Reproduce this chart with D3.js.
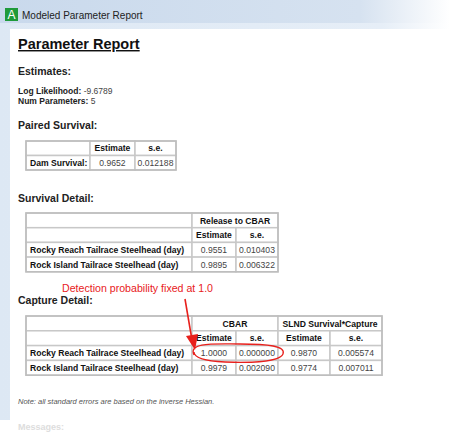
<!DOCTYPE html>
<html><head><meta charset="utf-8">
<script src="https://cdn.jsdelivr.net/npm/d3@7"></script>
<style>body{margin:0;background:#fff}svg{display:block}text{font-family:"Liberation Sans",Arial,sans-serif}</style>
</head><body>
<script>
// report values
const logLikelihood = '-9.6789'
const numParameters = '5'
const pairedHeader = ['', 'Estimate', 's.e.']
const pairedRows = [['Dam Survival:', '0.9652', '0.012188']]
const survivalGroups = ['Release to CBAR']
const survivalRows = [
  ['Rocky Reach Tailrace Steelhead (day)', '0.9551', '0.010403'],
  ['Rock Island Tailrace Steelhead (day)', '0.9895', '0.006322']
]
const captureGroups = ['CBAR', 'SLND Survival*Capture']
const captureRows = [
  ['Rocky Reach Tailrace Steelhead (day)', '1.0000', '0.000000', '0.9870', '0.005574'],
  ['Rock Island Tailrace Steelhead (day)', '0.9979', '0.002090', '0.9774', '0.007011']
]

const W = 474, H = 445
const svg = d3.select('body').append('svg').attr('width', W).attr('height', H)
const defs = svg.append('defs')
const tg = defs.append('linearGradient').attr('id', 'tb')
tg.append('stop').attr('offset', '0').attr('stop-color', '#c9d9ec')
tg.append('stop').attr('offset', '0.8').attr('stop-color', '#d6e2f0')
tg.append('stop').attr('offset', '1').attr('stop-color', '#fff')
const fg = defs.append('linearGradient').attr('id', 'fr')
fg.append('stop').attr('offset', '0').attr('stop-color', '#dde8f4')
fg.append('stop').attr('offset', '0.85').attr('stop-color', '#e6eef7')
fg.append('stop').attr('offset', '1').attr('stop-color', '#fff')

// window frame
svg.append('rect').attr('x', 0).attr('y', 0).attr('width', 450).attr('height', 420).attr('fill', 'url(#fr)')
svg.append('rect').attr('x', 0).attr('y', 0).attr('width', 450).attr('height', 23).attr('fill', 'url(#tb)')
svg.append('rect').attr('x', 10).attr('y', 29).attr('width', 440).attr('height', 400).attr('fill', '#fff')
svg.append('rect').attr('x', 5).attr('y', 8).attr('width', 13).attr('height', 13).attr('fill', '#1e9a3a')
svg.append('text').attr('x', 11.5).attr('y', 19).attr('text-anchor', 'middle').attr('fill', '#fff')
  .attr('font-size', 12).text('A')
svg.append('text').attr('x', 22).attr('y', 19).attr('font-size', 10).attr('fill', '#222').text('Modeled Parameter Report')

// headings
svg.append('text').attr('x', 18).attr('y', 49).attr('font-size', 14.5).attr('font-weight', 'bold')
  .attr('text-decoration', 'underline').attr('fill', '#111').text('Parameter Report')
const heading = (y, t) => svg.append('text').attr('x', 18).attr('y', y).attr('font-size', 10.5)
  .attr('font-weight', 'bold').attr('fill', '#222').text(t)
heading(75, 'Estimates:')
heading(129, 'Paired Survival:')
heading(202, 'Survival Detail:')
heading(304, 'Capture Detail:')
const kv = (y, k, v) => {
  const t = svg.append('text').attr('x', 18).attr('y', y).attr('font-size', 8.5).attr('fill', '#222')
  t.append('tspan').attr('font-weight', 'bold').text(k + ' ')
  t.append('tspan').attr('fill', '#444').text(v)
}
kv(94, 'Log Likelihood:', logLikelihood)
kv(104, 'Num Parameters:', numParameters)

// table drawer
function table(x0, y0, widths, rows, rowH) {
  const edges = [0, ...d3.cumsum(widths)]
  const g = svg.append('g').attr('transform', `translate(${x0},${y0})`)
  rows.forEach((r, ri) => {
    let c = 0
    r.forEach(cell => {
      const span = cell.span || 1
      const x = edges[c], w = edges[c + span] - edges[c]
      g.append('rect').attr('x', x).attr('y', ri * rowH).attr('width', w).attr('height', rowH)
        .attr('fill', '#fff').attr('stroke', '#c8c8c8').attr('stroke-width', 1.5)
      g.append('text').attr('x', cell.left ? x + 4 : x + w / 2).attr('y', ri * rowH + rowH / 2 + 3.2)
        .attr('text-anchor', cell.left ? 'start' : 'middle').attr('font-size', 8.6)
        .attr('font-weight', cell.bold ? 'bold' : 'normal').attr('fill', cell.bold ? '#111' : '#444')
        .text(cell.t)
      c += span
    })
  })
  g.append('rect').attr('width', edges[edges.length - 1]).attr('height', rows.length * rowH)
    .attr('fill', 'none').attr('stroke', '#bdbdbd').attr('stroke-width', 1.5)
  return edges
}
const hdr = t => ({t, bold: true})
const body = r => [{t: r[0], bold: true, left: true}, ...r.slice(1).map(t => ({t}))]

table(26, 141, [64, 45, 41], [pairedHeader.map(hdr), ...pairedRows.map(body)], 14.5)
table(26, 213, [166, 44, 42], [
  [hdr(''), {t: survivalGroups[0], bold: true, span: 2}],
  [hdr(''), hdr('Estimate'), hdr('s.e.')],
  ...survivalRows.map(body)], 14.7)
table(26, 316, [166, 44, 42, 52, 52], [
  [hdr(''), {t: captureGroups[0], bold: true, span: 2}, {t: captureGroups[1], bold: true, span: 2}],
  [hdr(''), hdr('Estimate'), hdr('s.e.'), hdr('Estimate'), hdr('s.e.')],
  ...captureRows.map(body)], 14.8)

// annotation
const red = '#e8201c'
svg.append('text').attr('x', 62).attr('y', 292).attr('font-size', 11).attr('fill', red)
  .attr('textLength', 151).attr('lengthAdjust', 'spacingAndGlyphs').text('Detection probability fixed at 1.0')
svg.append('path').attr('d', 'M194,355 C188,342 214,344 240,344 C268,344 286,346 283,354 C280,362 250,363 225,362 C205,361 194,358 194,352')
  .attr('fill', 'none').attr('stroke', red).attr('stroke-width', 1.3)
svg.append('line').attr('x1', 185).attr('y1', 299).attr('x2', 192).attr('y2', 340).attr('stroke', red).attr('stroke-width', 1.6)
svg.append('path').attr('d', 'M186,336 L195,350 L198,334 Z').attr('fill', red)

svg.append('text').attr('x', 18).attr('y', 404).attr('font-size', 7.5).attr('font-style', 'italic')
  .attr('fill', '#555').text('Note: all standard errors are based on the inverse Hessian.')
svg.append('text').attr('x', 18).attr('y', 430).attr('font-size', 9).attr('font-weight', 'bold')
  .attr('fill', '#ddd').text('Messages:')
</script>
</body></html>
